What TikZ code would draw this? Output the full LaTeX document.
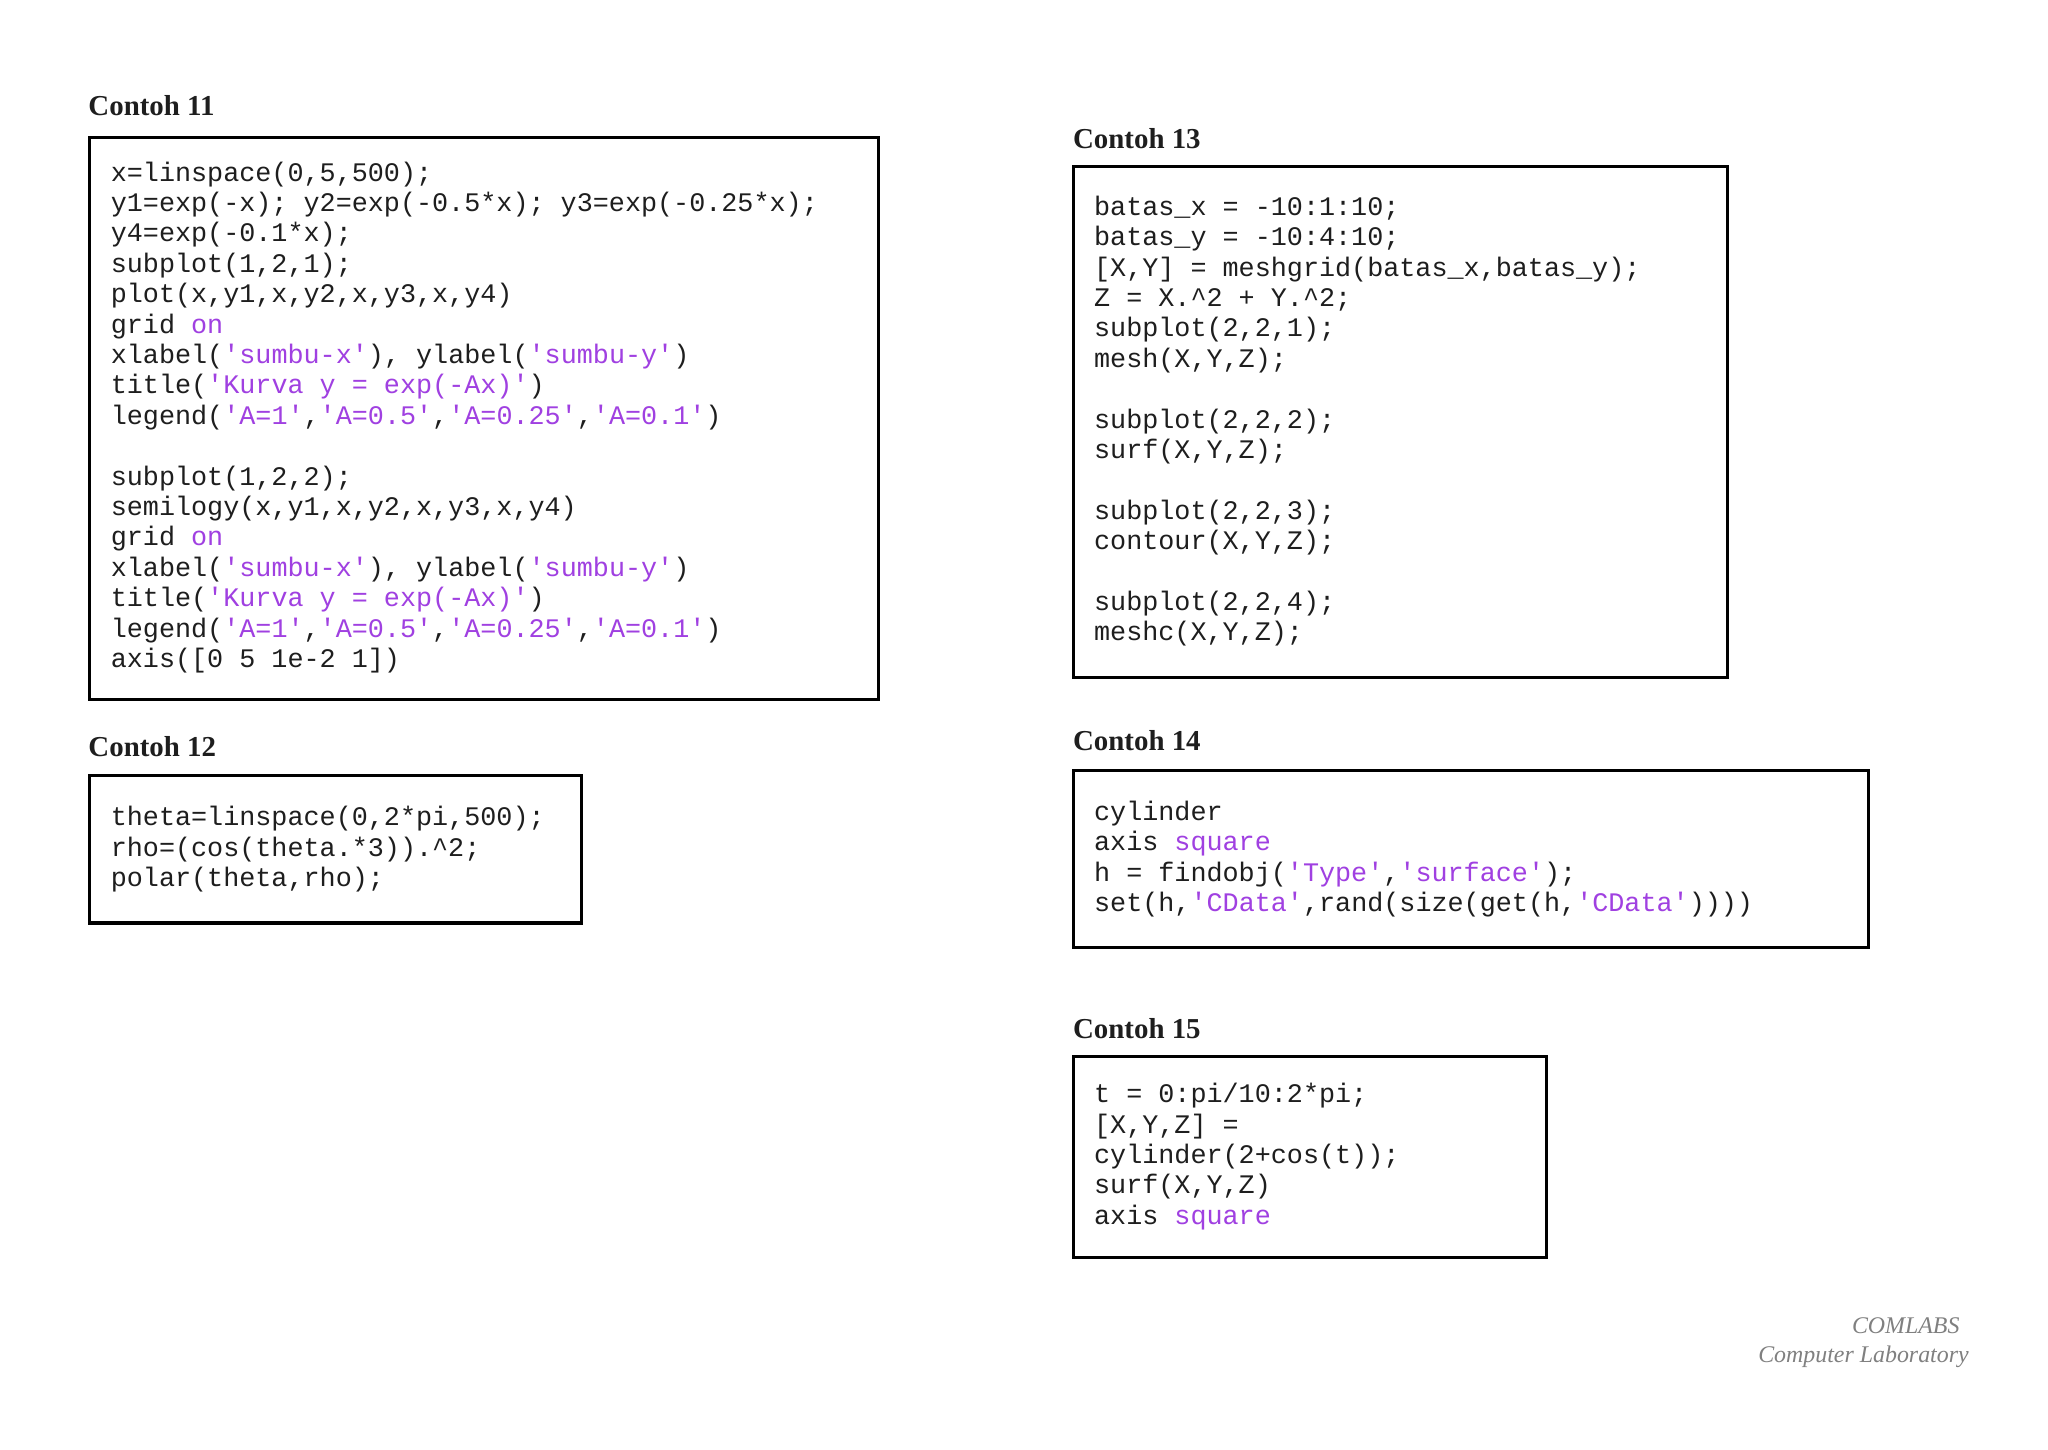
\documentclass[tikz,border=0pt]{standalone}
\usepackage{fontspec}
\setmainfont{Liberation Serif}
\newfontfamily\codefont{Liberation Mono}
\definecolor{mpurple}{RGB}{160,64,225}
\definecolor{txt}{RGB}{30,30,30}
\newcommand\q{\char"27\relax}
\newcommand\pp[1]{\textcolor{mpurple}{#1}}
\begin{document}
\begin{tikzpicture}[x=0.5pt,y=-0.5pt,
  box/.style={draw=black,line width=1.2pt},
  head/.style={anchor=base west,inner sep=0pt,font=\fontsize{11pt}{13pt}\selectfont\bfseries,text=txt},
  cl/.style={anchor=base west,inner sep=0pt,font=\codefont\fontsize{10.2pt}{12pt}\selectfont,text=txt}]
\useasboundingbox[fill=white] (0,0) rectangle (1560,1104);
% headings
\node[head] (h11) at (67,88) {Contoh 11};
\node[head] (h12) at (67,576) {Contoh 12};
\node[head] (h13) at (817,113) {Contoh 13};
\node[head] (h14) at (817,572) {Contoh 14};
\node[head] (h15) at (817,791) {Contoh 15};
% boxes
\draw[box] (68,105) rectangle (669,533);
\draw[box] (68,591) rectangle (443,703);
\draw[box] (818,127) rectangle (1316,516);
\draw[box] (818,587) rectangle (1423,722);
\draw[box] (818,805) rectangle (1178,958);
% Contoh 11
\def\dy{23.15}
\foreach \t [count=\i from 0] in {
 {x=linspace(0,5,500);},
 {y1=exp(-x); y2=exp(-0.5*x); y3=exp(-0.25*x);},
 {y4=exp(-0.1*x);},
 {subplot(1,2,1);},
 {plot(x,y1,x,y2,x,y3,x,y4)},
 {grid \pp{on}},
 {xlabel(\pp{\q sumbu-x\q}), ylabel(\pp{\q sumbu-y\q})},
 {title(\pp{\q Kurva y = exp(-Ax)\q})},
 {legend(\pp{\q A=1\q},\pp{\q A=0.5\q},\pp{\q A=0.25\q},\pp{\q A=0.1\q})},
 {},
 {subplot(1,2,2);},
 {semilogy(x,y1,x,y2,x,y3,x,y4)},
 {grid \pp{on}},
 {xlabel(\pp{\q sumbu-x\q}), ylabel(\pp{\q sumbu-y\q})},
 {title(\pp{\q Kurva y = exp(-Ax)\q})},
 {legend(\pp{\q A=1\q},\pp{\q A=0.5\q},\pp{\q A=0.25\q},\pp{\q A=0.1\q})},
 {axis([0 5 1e-2 1])}}
 \node[cl] (a\i) at (84,138+\i*\dy) {\t};
% Contoh 12
\foreach \t [count=\i from 0] in {
 {theta=linspace(0,2*pi,500);},
 {rho=(cos(theta.*3)).\char"5E 2;},
 {polar(theta,rho);}}
 \node[cl] (b\i) at (84,629+\i*\dy) {\t};
% Contoh 13
\foreach \t [count=\i from 0] in {
 {batas\_x = -10:1:10;},
 {batas\_y = -10:4:10;},
 {[X,Y] = meshgrid(batas\_x,batas\_y);},
 {Z = X.\char"5E 2 + Y.\char"5E 2;},
 {subplot(2,2,1);},
 {mesh(X,Y,Z);},
 {},
 {subplot(2,2,2);},
 {surf(X,Y,Z);},
 {},
 {subplot(2,2,3);},
 {contour(X,Y,Z);},
 {},
 {subplot(2,2,4);},
 {meshc(X,Y,Z);}}
 \node[cl] (c\i) at (833,164+\i*\dy) {\t};
% Contoh 14
\foreach \t [count=\i from 0] in {
 {cylinder},
 {axis \pp{square}},
 {h = findobj(\pp{\q Type\q},\pp{\q surface\q});},
 {set(h,\pp{\q CData\q},rand(size(get(h,\pp{\q CData\q}))))}}
 \node[cl] (d\i) at (833,625+\i*\dy) {\t};
% Contoh 15
\foreach \t [count=\i from 0] in {
 {t = 0:pi/10:2*pi;},
 {[X,Y,Z] =},
 {cylinder(2+cos(t));},
 {surf(X,Y,Z)},
 {axis \pp{square}}}
 \node[cl] (e\i) at (833,840+\i*\dy) {\t};
% footer
\node[anchor=base east,inner sep=0pt,font=\fontsize{9.1pt}{11pt}\selectfont\itshape,text=gray] (f1) at (1493,1016) {COMLABS};
\node[anchor=base east,inner sep=0pt,font=\fontsize{9.1pt}{11pt}\selectfont\itshape,text=gray] (f2) at (1500,1038) {Computer Laboratory};
\end{tikzpicture}
\end{document}
